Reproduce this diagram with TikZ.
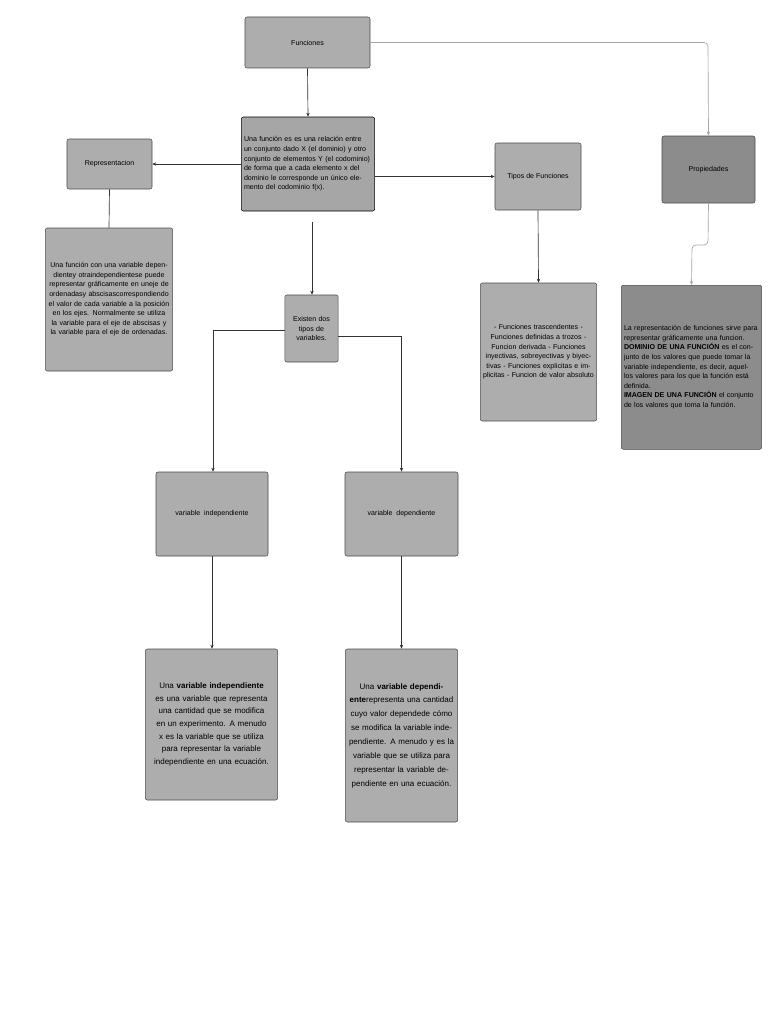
\documentclass[tikz,border=0pt]{standalone}
\usepackage{fontspec}
\setmainfont{Liberation Sans}
\usetikzlibrary{arrows.meta,positioning}
\begin{document}
\begin{tikzpicture}[x=0.75pt,y=-0.75pt,
 box/.style={draw=black!70,fill=black!32,rounded corners=1.5pt,font=\fontsize{5.3}{7.2}\selectfont,align=center,inner sep=2pt},
 dbox/.style={box,fill=black!45},
 arr/.style={draw=black!80,-{Stealth[length=3pt,width=2.5pt]},line width=0.5pt},
 ln/.style={draw=black!80,line width=0.5pt},
 garr/.style={draw=black!35,-{Stealth[length=3pt,width=2.5pt]},line width=0.5pt,rounded corners=3pt}]
\useasboundingbox (0,0) rectangle (768,1024);
\fill[white] (0,0) rectangle (768,1024);
\node[box,minimum width=125*0.75pt,minimum height=51*0.75pt] (fun) at (307.5,42.5) {Funciones};
\node[box,text width=128*0.75pt,minimum height=94*0.75pt,align=left,fill=black!35,draw=black] (def) at (308,164) {Una función es es una relación entre un conjunto dado X (el dominio) y otro conjunto de elementos Y (el codominio) de forma que a cada elemento x del dominio le corresponde un único elemento del codominio f(x).};
\node[box,minimum width=85*0.75pt,minimum height=50*0.75pt] (rep) at (109.5,164) {Representacion};
\node[box,text width=122*0.75pt,minimum height=143*0.75pt] (rept) at (109,299.5) {Una función con una variable dependientey otraindependientese puede representar gráficamente en uneje de ordenadasy abscisascorrespondiendo el valor de cada variable a la posición en los ejes. Normalmente se utiliza la variable para el eje de abscisas y la variable para el eje de ordenadas.};
\node[box,minimum width=86*0.75pt,minimum height=67*0.75pt] (tip) at (538,176.5) {Tipos de Funciones};
\node[box,text width=111*0.75pt,minimum height=138*0.75pt] (tipt) at (538.5,352) {- Funciones trascendentes - Funciones definidas a trozos - Funcion derivada - Funciones inyectivas, sobreyectivas y biyectivas - Funciones explicitas e implicitas - Funcion de valor absoluto};
\node[dbox,minimum width=93*0.75pt,minimum height=67*0.75pt] (pro) at (708.5,169.5) {Propiedades};
\node[dbox,text width=135*0.75pt,minimum height=164*0.75pt,align=left,anchor=north] (prot) at (691.5,285) {La representación de funciones sirve para representar gráficamente una funcion.\\\textbf{DOMINIO DE UNA FUNCIÓN} es el conjunto de los valores que puede tomar la variable independiente, es decir, aquellos valores para los que la función está definida.\\\textbf{IMAGEN DE UNA FUNCIÓN} el conjunto de los valores que toma la función.};
\node[box,text width=48*0.75pt,minimum height=67*0.75pt] (exi) at (311.5,328.5) {Existen dos tipos de variables.};
\node[box,minimum width=112*0.75pt,minimum height=84*0.75pt] (vi) at (212,514) {variable\ \ independiente};
\node[box,minimum width=113*0.75pt,minimum height=84*0.75pt] (vd) at (401.5,514) {variable\ \ dependiente};
\node[box,text width=127*0.75pt,minimum height=151*0.75pt,font=\fontsize{6}{9.5}\selectfont] (vit) at (211.5,724.5) {Una \textbf{variable independiente} es una variable que representa una cantidad que se modifica en un experimento. A menudo\\x es la variable que se utiliza para representar la variable independiente en una ecuación.};
\node[box,text width=107*0.75pt,minimum height=173*0.75pt,font=\fontsize{6}{10.4}\selectfont] (vdt) at (401.5,735.5) {Una \textbf{variable dependiente}representa una cantidad cuyo valor dependede cómo se modifica la variable independiente. A menudo y es la variable que se utiliza para representar la variable dependiente en una ecuación.};
\draw[arr] (fun.south) -- (def.north);
\draw[garr] (fun.east) -- (708,42.5) -- (pro.north);
\draw[arr] (def.west|-rep) -- (rep.east);
\draw[arr] (def.east|-tip) -- (tip.west);
\draw[ln] (rep.south) -- (rept.north);
\draw[arr] (tip.south) -- (tipt.north);
\draw[garr] (pro.south) -- (708,245) -- (692,245) -- (prot.north);
\coordinate (d0) at (312,222);
\draw[arr] (d0) -- (exi.north-|d0);
\draw[arr] (exi.west|-0,330) -- (213,330) -- (vi.north-|213,0);
\draw[arr] (exi.east|-0,336) -- (401.5,336) -- (vd.north);
\draw[arr] (vi.south) -- (vit.north-|vi.south);
\draw[arr] (vd.south) -- (vdt.north);
\end{tikzpicture}
\end{document}
